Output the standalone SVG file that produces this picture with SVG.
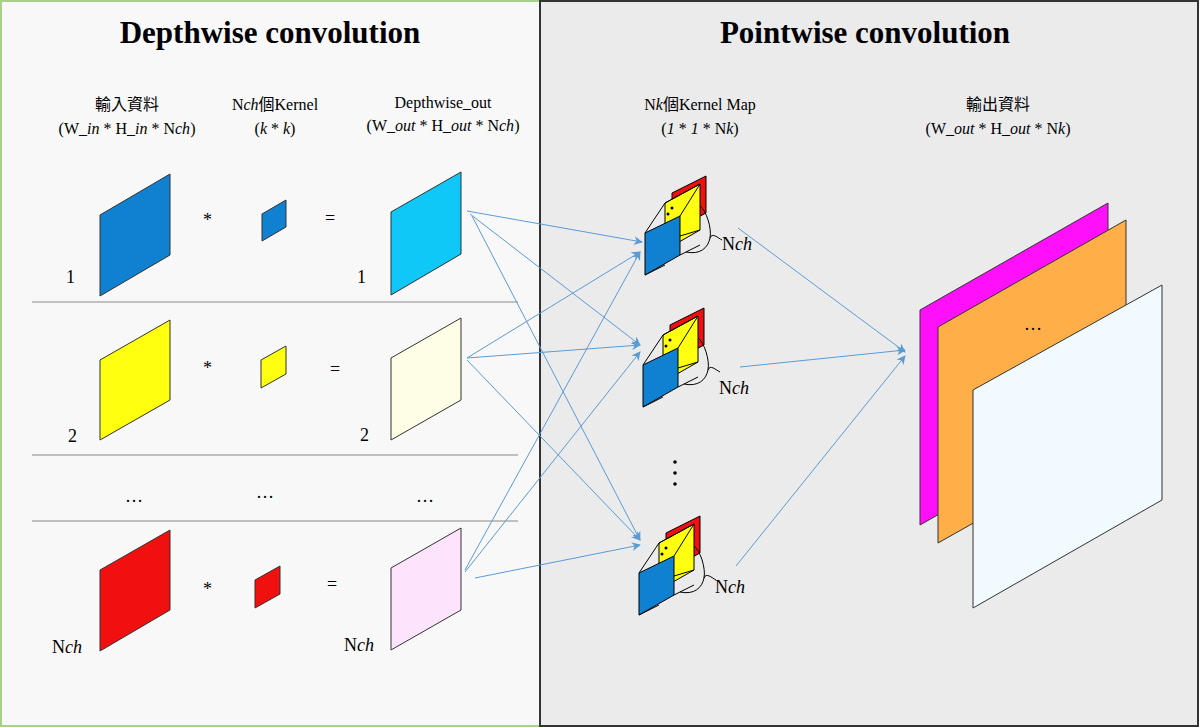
<svg xmlns="http://www.w3.org/2000/svg" xmlns:xlink="http://www.w3.org/1999/xlink" width="1200" height="727" viewBox="0 0 1200 727">
<style>
text{font-family:"Liberation Serif","Noto Sans CJK TC",serif;fill:#000}
.h{font-size:31px;font-weight:bold;text-anchor:middle}
.l{font-size:16px;text-anchor:middle}
.n{font-size:18px}
.p{stroke:#333;stroke-width:1}
.c{stroke:#5b9bd5;stroke-width:1;fill:none;marker-end:url(#a)}
.sep{stroke:#888;stroke-width:1}
</style>
<defs>
<marker id="a" viewBox="0 0 10 10" refX="9" refY="5" markerWidth="9" markerHeight="9" orient="auto" markerUnits="userSpaceOnUse"><path d="M0,0L10,5L0,10L3,5z" fill="#5b9bd5"/></marker>
<g id="km">
<path d="M672,193L706,176L706,213L672,231z" fill="#f01010" stroke="#000"/>
<path d="M665,203L700,184L700,230L665,250z" fill="#ffff10" stroke="#000"/>
<path d="M665,203L700,184M680,216L700,184M680,236L700,230M645,233L665,203M645,275L665,265M680,255L700,245" stroke="#000" fill="none"/>
<circle cx="672" cy="208" r="1.5" fill="#000"/><circle cx="668" cy="214" r="1.5" fill="#000"/>
<path d="M645,233L680,216L680,255L645,275z" fill="#1080d0" stroke="#000"/>
<path d="M686,252 C700,255 708,248 710,238 C712,232 718,238 722,240 M710,238 C712,228 706,210 700,206" stroke="#000" fill="none"/>
</g>
</defs>
<rect x="1" y="1" width="539" height="725" fill="#f8f8f8" stroke="#a8d08d" stroke-width="2"/>
<rect x="540" y="1" width="658" height="725" fill="#ebebeb" stroke="#333" stroke-width="2"/>
<text class="h" x="270" y="43">Depthwise convolution</text>
<text class="h" x="865" y="43">Pointwise convolution</text>
<g id="headers">
<text class="l" x="127" y="110">輸入資料</text>
<text class="l" x="127" y="134">(W_<tspan font-style="italic">in</tspan> * H_<tspan font-style="italic">in</tspan> * N<tspan font-style="italic">ch</tspan>)</text>
<text class="l" x="275" y="110">N<tspan font-style="italic">ch</tspan>個Kernel</text>
<text class="l" x="275" y="134">(<tspan font-style="italic">k</tspan> * <tspan font-style="italic">k</tspan>)</text>
<text class="l" x="443" y="108">Depthwise_out</text>
<text class="l" x="443" y="131">(W_<tspan font-style="italic">out</tspan> * H_<tspan font-style="italic">out</tspan> * N<tspan font-style="italic">ch</tspan>)</text>
<text class="l" x="700" y="110">N<tspan font-style="italic">k</tspan>個Kernel Map</text>
<text class="l" x="700" y="134">(<tspan font-style="italic">1</tspan> * <tspan font-style="italic">1</tspan> * N<tspan font-style="italic">k</tspan>)</text>
<text class="l" x="998" y="110">輸出資料</text>
<text class="l" x="998" y="134">(W_<tspan font-style="italic">out</tspan> * H_<tspan font-style="italic">out</tspan> * N<tspan font-style="italic">k</tspan>)</text>
</g>
<g id="separators">
<line class="sep" x1="32" y1="302" x2="518" y2="302"/>
<line class="sep" x1="32" y1="455" x2="518" y2="455"/>
<line class="sep" x1="32" y1="521" x2="518" y2="521"/>
</g>
<g id="row1">
<path class="p" d="M100,215L170,174L170,255L100,296z" fill="#1080d0"/>
<path class="p" d="M262,214L286,200L286,227L262,241z" fill="#1080d0"/>
<path class="p" d="M391,212L461,172L461,254L391,295z" fill="#10c8f8"/>
<text class="n" x="66" y="283">1</text><text class="n" x="357" y="283">1</text>
<text class="n" x="203" y="226">*</text><text class="n" x="325" y="224">=</text>
</g>
<g id="row2">
<path class="p" d="M100,360L170,320L170,400L100,440z" fill="#ffff10"/>
<path class="p" d="M261,360L286,346L286,374L261,388z" fill="#ffff10"/>
<path class="p" d="M391,358L461,318L461,400L391,440z" fill="#fefee6"/>
<text class="n" x="68" y="442">2</text><text class="n" x="360" y="441">2</text>
<text class="n" x="203" y="374">*</text><text class="n" x="330" y="375">=</text>
</g>
<g id="dots">
<text class="n" x="125" y="502">…</text><text class="n" x="256" y="498">…</text><text class="n" x="416" y="502">…</text>
</g>
<g id="row3">
<path class="p" d="M100,570L170,530L170,610L100,651z" fill="#f01010"/>
<path class="p" d="M255,580L280,566L280,594L255,608z" fill="#f01010"/>
<path class="p" d="M391,568L461,528L461,610L391,650z" fill="#fde4fc"/>
<text class="n" x="52" y="653">N<tspan font-style="italic">ch</tspan></text>
<text class="n" x="344" y="651">N<tspan font-style="italic">ch</tspan></text>
<text class="n" x="203" y="595">*</text><text class="n" x="327" y="590">=</text>
</g>
<g id="kmap1"><use xlink:href="#km"/><text class="n" x="722" y="250">N<tspan font-style="italic">ch</tspan></text></g>
<g id="kmap2"><use xlink:href="#km" transform="translate(-2,132)"/><text class="n" x="719" y="394">N<tspan font-style="italic">ch</tspan></text></g>
<g id="kmap3"><use xlink:href="#km" transform="translate(-6,340)"/><text class="n" x="715" y="593">N<tspan font-style="italic">ch</tspan></text></g>
<g id="vdots" fill="#000"><circle cx="675" cy="462" r="1.8"/><circle cx="675" cy="473" r="1.8"/><circle cx="675" cy="484" r="1.8"/></g>
<g id="output">
<path class="p" d="M920,310L1108,203L1108,418L920,525z" fill="#ff10f8"/>
<path class="p" d="M938,327L1126,220L1126,437L938,543z" fill="#ffae48"/>
<path class="p" d="M973,390L1162,285L1162,500L973,608z" fill="#f0faff"/>
<text class="n" x="1024" y="330">…</text>
</g>
<g id="connectors">
<path class="c" d="M467,211L642,242"/>
<path class="c" d="M470,214L640,345"/>
<path class="c" d="M472,216L640,540"/>
<path class="c" d="M467,358L640,252"/>
<path class="c" d="M467,358L640,345"/>
<path class="c" d="M467,360L640,540"/>
<path class="c" d="M465,570L640,252"/>
<path class="c" d="M465,572L640,352"/>
<path class="c" d="M475,578L640,545"/>
<path class="c" d="M738,228L905,352"/>
<path class="c" d="M740,367L905,350"/>
<path class="c" d="M736,566L905,356"/>
</g>
</svg>
